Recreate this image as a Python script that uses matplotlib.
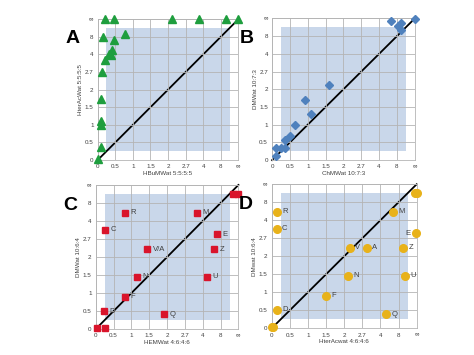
import matplotlib
matplotlib.use('Agg')
import matplotlib.pyplot as plt
from matplotlib.patches import Rectangle

plt.rcParams['font.family'] = ['Liberation Sans', 'DejaVu Sans']

# tick labels (positions 0..8 on a ranked scale)
tick_labels = ['0', '0.5', '1', '1.5', '2', '2.7', '4', '8', '\u221e']

# panel A - green triangles
a_x = [0.0, 0.17, 0.17, 0.17, 0.17, 0.27, 0.42, 0.66, 0.76, 0.82, 0.95, 0.28, 1.57,
       0.42, 0.93, 4.25, 5.78, 7.30, 8.0]
a_y = [0.08, 0.76, 2.24, 1.99, 3.49, 5.0, 5.69, 6.03, 5.95, 6.26, 6.82, 7.01, 7.17,
       8.0, 8.0, 8.0, 8.0, 8.0, 8.0]

# panel B - blue diamonds
b_x = [0.21, 0.24, 0.52, 0.71, 0.71, 1.03, 1.31, 1.83, 2.21, 3.21, 6.67, 7.07, 7.23, 7.23, 8.0]
b_y = [0.26, 0.71, 0.71, 0.71, 1.14, 1.35, 2.0, 3.41, 2.62, 4.22, 7.85, 7.57, 7.74, 7.36, 7.98]

# panel C - red squares
c_x = [0.05, 0.52, 0.49, 1.64, 2.34, 3.83, 0.52, 1.64, 2.9, 5.66, 6.82, 6.65, 6.22, 7.7, 8.0]
c_y = [0.07, 0.07, 1.0, 1.8, 2.9, 0.81, 5.5, 6.46, 4.44, 6.46, 5.26, 4.44, 2.9, 7.5, 7.5]
c_lab = ['', '', 'D', 'F', 'N', 'Q', 'C', 'R', 'V/A', 'M', 'E', 'Z', 'U', '', '']

# panel D - gold circles
d_x = [0.0, 0.1, 0.28, 0.28, 0.28, 3.0, 4.23, 4.32, 5.24, 6.31, 6.67, 7.26, 7.35, 7.96, 7.9, 8.0]
d_y = [0.09, 0.09, 1.02, 5.52, 6.48, 1.81, 2.91, 4.48, 4.48, 0.78, 6.48, 4.48, 2.91, 5.28, 7.5, 7.5]
d_lab = ['', '', 'D', 'C', 'R', 'F', 'N', 'V', 'A', 'Q', 'M', 'Z', 'U', 'E', '', '']

fig = plt.figure(figsize=(4.74, 3.55), dpi=100)

panels = [
    ('A', [0.206, 0.549, 0.297, 0.397], a_x, a_y, None, '^', '#1e9e3e', 5.5,
     'HBuMWat 5:5:5:5', 'HterAcWat 5:5:5:5'),
    ('B', [0.574, 0.549, 0.301, 0.399], b_x, b_y, None, 'D', '#4f81bd', 4.5,
     'ChMWat 10:7:3', 'DMWat 10:7:3'),
    ('C', [0.202, 0.073, 0.301, 0.406], c_x, c_y, c_lab, 's', '#d9142b', 5.0,
     'HEMWat 4:6:4:6', 'DMWat 10:6:4'),
    ('D', [0.573, 0.075, 0.306, 0.406], d_x, d_y, d_lab, 'o', '#e8b21a', 5.5,
     'HterAcwat 4:6:4:6', 'DMwat 10:6:4'),
]

for letter, pos, xs, ys, labs, mk, col, ms, xl, yl in panels:
    ax = fig.add_axes(pos)
    ax.set_xlim(0, 8)
    ax.set_ylim(0, 8)
    ax.add_patch(Rectangle((0.5, 0.5), 7.0, 7.0, facecolor='#c9d7ea', edgecolor='none', zorder=0))
    ax.set_xticks(range(9))
    ax.set_yticks(range(9))
    ax.set_xticklabels(tick_labels)
    ax.set_yticklabels(tick_labels)
    ax.tick_params(length=0, labelsize=4.5, labelcolor='#404040', pad=3)
    ax.grid(True, color='#b4b4b4', linewidth=0.6, zorder=1)
    ax.set_axisbelow(False)
    for s in ax.spines.values():
        s.set_color('#b4b4b4')
        s.set_linewidth(0.6)
    ax.plot([0, 8], [0, 8], color='black', linewidth=1.3, zorder=2, clip_on=False)
    ax.plot(xs, ys, linestyle='none', marker=mk, color=col, markersize=ms, zorder=3, clip_on=False)
    if labs:
        for x, y, t in zip(xs, ys, labs):
            if not t:
                continue
            # labels sit right of the point, except when the point is on the right edge
            if x > 7.8:
                ax.text(x - 0.3, y, t, fontsize=5.5, color='#404040', va='center', ha='right', zorder=4)
            else:
                ax.text(x + 0.3, y, t, fontsize=5.5, color='#404040', va='center', ha='left', zorder=4)
    ax.set_xlabel(xl, fontsize=4.5, color='#404040', labelpad=1)
    ax.set_ylabel(yl, fontsize=4.5, color='#404040', labelpad=1)
    ax.text(-0.18, 0.86, letter, transform=ax.transAxes, fontsize=14, fontweight='bold',
            ha='center', va='center', color='black')

fig.savefig('out.png', dpi=100)
